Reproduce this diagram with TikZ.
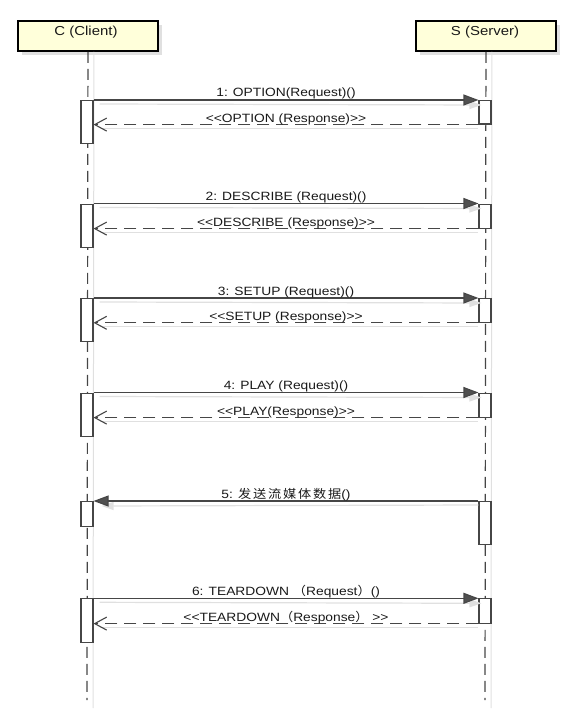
\documentclass[tikz,border=0pt]{standalone}
\usepackage{fontspec}
\newfontfamily\labfont{Liberation Sans}[FakeStretch=1.15]
\newfontfamily\cjkfont{Noto Sans CJK SC}[FakeStretch=1.1,LetterSpace=15]
\usetikzlibrary{arrows.meta,shadows}
\definecolor{linegray}{RGB}{70,70,70}
\definecolor{boxfill}{RGB}{255,255,218}
\definecolor{tipgray}{RGB}{80,80,80}
\definecolor{shadowgray}{RGB}{224,224,224}
\begin{document}
\begin{tikzpicture}[x=1pt,y=-1pt,
  actorbox/.style={draw=black,line width=1.9pt,fill=boxfill,minimum width=140pt,minimum height=30pt,inner sep=0pt,anchor=north west,
    drop shadow={shadow xshift=4pt,shadow yshift=-4pt,fill=shadowgray,opacity=1}},
  actorlabel/.style={font=\labfont\fontsize{13}{15}\selectfont,anchor=base,inner sep=0pt,text=black!90},
  lifeline/.style={draw=linegray,line width=1.2pt,dash pattern=on 11pt off 6pt},
  lshadow/.style={draw=shadowgray,line width=1pt},
  actbar/.style={draw=linegray,line width=1.1pt,fill=white,minimum width=12pt,inner sep=0pt,anchor=north},
  reqarrow/.style={draw=linegray,line width=1.1pt,-{Triangle[length=15pt,width=11pt,fill=tipgray]}},
  retarrow/.style={draw=linegray,line width=1.1pt,dash pattern=on 12pt off 7pt,-{Straight Barb[length=12pt,width=13pt]}},
  reqshadow/.style={draw=shadowgray,line width=1.2pt,-{Triangle[length=12pt,width=8pt,fill=shadowgray]}},
  retshadow/.style={draw=shadowgray,line width=1.2pt},
  msglabel/.style={font=\labfont\fontsize{12}{14}\selectfont,anchor=base,inner sep=0pt,text=black!90},
]
\useasboundingbox (0,0) rectangle (576,722);

% actors
\node[actorbox] (client) at (17,20) {};
\node[actorbox] (server) at (415,20) {};
\node[actorlabel] (clientlbl) at (86,36) {C (Client)};
\node[actorlabel] (serverlbl) at (485,36) {S (Server)};

% lifelines
\coordinate (cend) at (87,700);
\coordinate (send) at (485,700);
\draw[lshadow] ([xshift=6pt]client.south) -- ([xshift=6pt,yshift=-8pt]cend);
\draw[lshadow] ([xshift=6pt]server.south) -- ([xshift=6pt,yshift=-8pt]send);
\draw[lifeline] (client.south) -- (cend);
\draw[lifeline] (server.south) -- (send);

% activation bars
\node[actbar,minimum height=43pt] (ca1) at (87,100) {};
\node[actbar,minimum height=23.5pt] (sa1) at (485,100) {};
\node[actbar,minimum height=43pt] (ca2) at (87,203.5) {};
\node[actbar,minimum height=24pt] (sa2) at (485,203.5) {};
\node[actbar,minimum height=43pt] (ca3) at (87,298) {};
\node[actbar,minimum height=23.7pt] (sa3) at (485,298) {};
\node[actbar,minimum height=43.5pt] (ca4) at (87,392.5) {};
\node[actbar,minimum height=24pt] (sa4) at (485,392.5) {};
\node[actbar,minimum height=24.7pt] (ca5) at (87,501) {};
\node[actbar,minimum height=43pt] (sa5) at (485,501) {};
\node[actbar,minimum height=44pt] (ca6) at (87,598.3) {};
\node[actbar,minimum height=24.2pt] (sa6) at (485,598.3) {};

% return end points
\coordinate (r1) at (sa1.south west -| ca1.east);
\coordinate (r2) at (sa2.south west -| ca2.east);
\coordinate (r3) at (sa3.south west -| ca3.east);
\coordinate (r4) at (sa4.south west -| ca4.east);
\coordinate (r6) at (sa6.south west -| ca6.east);

% shadows of messages
\foreach \i in {1,2,3,4,6}{
  \draw[reqshadow] ([shift={(6,4)}]ca\i.north east) -- ([shift={(3,5)}]sa\i.north west);
  \draw[retshadow] ([shift={(6,4)}]r\i) -- ([shift={(0,4)}]sa\i.south west);
}
\draw[reqshadow] ([shift={(0,4)}]sa5.north west) -- ([shift={(8,5)}]ca5.north east);

% messages
\draw[reqarrow] (ca1.north east) -- (sa1.north west)
  node[msglabel,pos=0.5,yshift=3pt] (m1) {1: OPTION(Request)()};
\draw[retarrow] (sa1.south west) -- (r1)
  node[msglabel,pos=0.5,yshift=2.5pt] (m1r) {<<OPTION (Response)>>};

\draw[reqarrow] (ca2.north east) -- (sa2.north west)
  node[msglabel,pos=0.5,yshift=3pt] (m2) {2: DESCRIBE (Request)()};
\draw[retarrow] (sa2.south west) -- (r2)
  node[msglabel,pos=0.5,yshift=2.5pt] (m2r) {<<DESCRIBE (Response)>>};

\draw[reqarrow] (ca3.north east) -- (sa3.north west)
  node[msglabel,pos=0.5,yshift=3pt] (m3) {3: SETUP (Request)()};
\draw[retarrow] (sa3.south west) -- (r3)
  node[msglabel,pos=0.5,yshift=2.5pt] (m3r) {<<SETUP (Response)>>};

\draw[reqarrow] (ca4.north east) -- (sa4.north west)
  node[msglabel,pos=0.5,yshift=3pt] (m4) {4: PLAY (Request)()};
\draw[retarrow] (sa4.south west) -- (r4)
  node[msglabel,pos=0.5,yshift=2.5pt] (m4r) {<<PLAY(Response)>>};

\draw[reqarrow] (sa5.north west) -- (ca5.north east)
  node[msglabel,pos=0.5,yshift=2.5pt] (m5) {5: {\cjkfont 发送流媒体数据}()};

\draw[reqarrow] (ca6.north east) -- (sa6.north west)
  node[msglabel,pos=0.5,yshift=3pt] (m6) {6: TEARDOWN {\cjkfont （}Request{\cjkfont ）}()};
\draw[retarrow] (sa6.south west) -- (r6)
  node[msglabel,pos=0.5,yshift=2.5pt] (m6r) {<<TEARDOWN{\cjkfont （}Response{\cjkfont ）} >>};
\end{tikzpicture}
\end{document}
